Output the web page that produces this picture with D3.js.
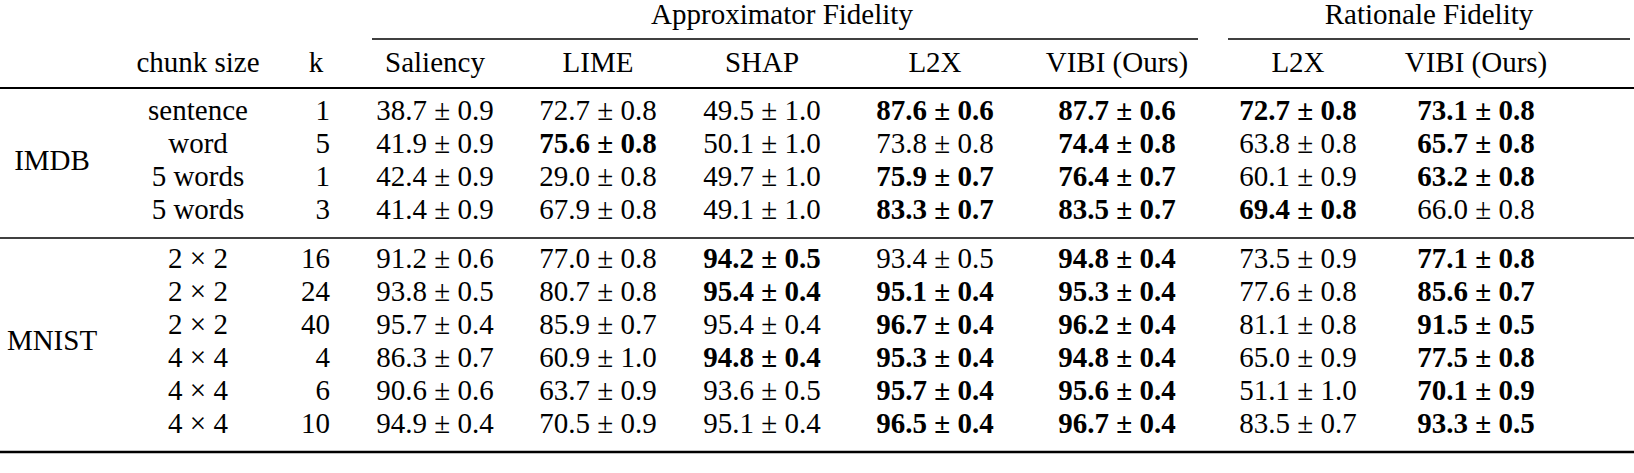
<!DOCTYPE html>
<html><head><meta charset="utf-8">
<script src="https://cdn.jsdelivr.net/npm/d3@7"></script>
<style>body{margin:0;background:#fff}text{font-family:"Liberation Serif","DejaVu Serif",serif;font-size:29px;fill:#000}</style>
</head><body><svg id="c" width="1634" height="473"></svg>
<script>
const datasets=["IMDB","MNIST"];
const chunk=["sentence","word","5 words","5 words","2 × 2","2 × 2","2 × 2","4 × 4","4 × 4","4 × 4"];
const kvals=[1,5,1,3,16,24,40,4,6,10];
const methods=["Saliency","LIME","SHAP","L2X","VIBI (Ours)","L2X","VIBI (Ours)"];
const means=[
[38.7,72.7,49.5,87.6,87.7,72.7,73.1],
[41.9,75.6,50.1,73.8,74.4,63.8,65.7],
[42.4,29.0,49.7,75.9,76.4,60.1,63.2],
[41.4,67.9,49.1,83.3,83.5,69.4,66.0],
[91.2,77.0,94.2,93.4,94.8,73.5,77.1],
[93.8,80.7,95.4,95.1,95.3,77.6,85.6],
[95.7,85.9,95.4,96.7,96.2,81.1,91.5],
[86.3,60.9,94.8,95.3,94.8,65.0,77.5],
[90.6,63.7,93.6,95.7,95.6,51.1,70.1],
[94.9,70.5,95.1,96.5,96.7,83.5,93.3]];
const errs=[
[0.9,0.8,1.0,0.6,0.6,0.8,0.8],
[0.9,0.8,1.0,0.8,0.8,0.8,0.8],
[0.9,0.8,1.0,0.7,0.7,0.9,0.8],
[0.9,0.8,1.0,0.7,0.7,0.8,0.8],
[0.6,0.8,0.5,0.5,0.4,0.9,0.8],
[0.5,0.8,0.4,0.4,0.4,0.8,0.7],
[0.4,0.7,0.4,0.4,0.4,0.8,0.5],
[0.7,1.0,0.4,0.4,0.4,0.9,0.8],
[0.6,0.9,0.5,0.4,0.4,1.0,0.9],
[0.4,0.9,0.4,0.4,0.4,0.7,0.5]];
const bold=[
[0,0,0,1,1,1,1],[0,1,0,0,1,0,1],[0,0,0,1,1,0,1],[0,0,0,1,1,1,0],
[0,0,1,0,1,0,1],[0,0,1,1,1,0,1],[0,0,0,1,1,0,1],[0,0,1,1,1,0,1],[0,0,0,1,1,0,1],[0,0,0,1,1,0,1]];
const groups=["Approximator Fidelity","Rationale Fidelity"];

const svg=d3.select("#c");
const colX=d3.scaleOrdinal().domain(d3.range(7)).range([435,598,762,935,1117,1298,1476]);
const rowY=d3.scaleLinear().domain([0,3]).range([110,209]);
const rowY2=d3.scaleLinear().domain([4,9]).range([258,423]);
const y=i=>i<4?rowY(i):rowY2(i);
function t(x,yy,s,anchor,b){svg.append("text").attr("x",x).attr("y",yy).attr("dy","0.35em").attr("text-anchor",anchor||"middle").style("font-weight",b?"bold":"normal").text(s);}
function line(x1,x2,yy,w){svg.append("line").attr("x1",x1).attr("x2",x2).attr("y1",yy).attr("y2",yy).attr("stroke","#000").attr("stroke-width",w);}
t(782,14,groups[0]);t(1429,14,groups[1]);
line(372,1198,39,1.3);line(1228,1630,39,1.3);
t(198,62,"chunk size");t(316,62,"k");
methods.forEach((m,j)=>t(colX(j),62,m));
line(0,1634,88,2);line(0,1634,238,1.3);line(0,1634,452,2.5);
t(52,160,datasets[0]);t(52,340,datasets[1]);
chunk.forEach((c,i)=>{t(198,y(i),c);t(330,y(i),kvals[i],"end");
 means[i].forEach((v,j)=>t(colX(j),y(i),v.toFixed(1)+" ± "+errs[i][j].toFixed(1),"middle",bold[i][j]));});
</script></body></html>
